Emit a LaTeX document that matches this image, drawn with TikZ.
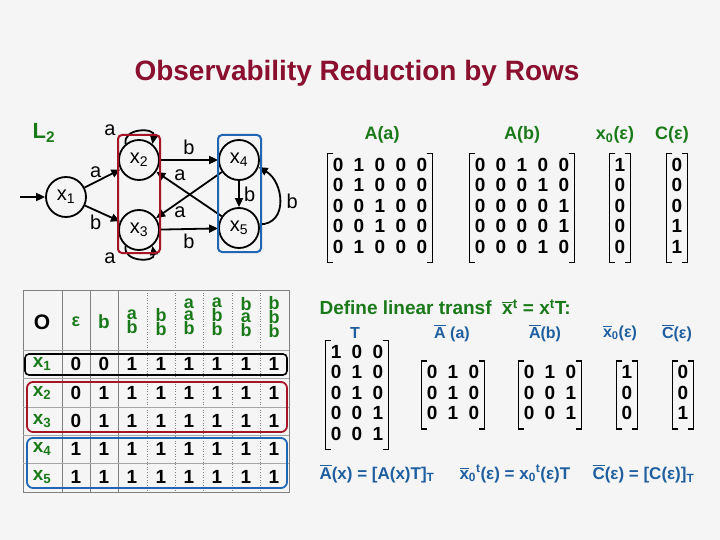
\documentclass[tikz,border=0pt]{standalone}
\usepackage{fontspec}
\setmainfont{Liberation Sans}
\usetikzlibrary{arrows.meta}
\definecolor{ttl}{HTML}{8B1030}
\definecolor{grn}{HTML}{1A7A1A}
\definecolor{blu}{HTML}{1F5FA0}
\definecolor{rbox}{HTML}{A51525}
\definecolor{bbox}{HTML}{1F66B5}
\newcommand{\ovl}[1]{\leavevmode\vbox{\hrule height 0.9pt\kern1.6pt\hbox{#1}}}
\newcommand{\brk}[1]{\draw[line width=1.3pt] ([xshift=6pt]#1.north west) -- (#1.north west) -- (#1.south west) -- ([xshift=6pt]#1.south west);
  \draw[line width=1.3pt] ([xshift=-6pt]#1.north east) -- (#1.north east) -- (#1.south east) -- ([xshift=-6pt]#1.south east);}
\begin{document}
\begin{tikzpicture}[x=1pt,y=-1pt,
  st/.style={circle,draw,line width=1.8pt,minimum size=40pt,inner sep=0pt,font=\fontsize{20}{24}\selectfont},
  ed/.style={line width=1.8pt,-{Triangle[length=9pt,width=8pt]}},
  el/.style={font=\fontsize{20}{24}\selectfont},
  mat/.style={inner xsep=2pt,inner ysep=3pt,font=\fontsize{19}{20.5}\selectfont\bfseries},
  hd/.style={font=\fontsize{18}{12}\selectfont\bfseries,text=grn,align=center},
  dg/.style={font=\fontsize{19}{20}\selectfont\bfseries},
  rl/.style={font=\fontsize{19}{20}\selectfont\bfseries,text=grn},
  gl/.style={font=\fontsize{18}{20}\selectfont\bfseries,text=grn},
  bl/.style={font=\fontsize{16}{18}\selectfont\bfseries,text=blu},
  bf/.style={font=\fontsize{17}{19}\selectfont\bfseries,text=blu,anchor=west}]
\fill[white!96!black] (0,0) rectangle (720,540);
\useasboundingbox (0,0) rectangle (720,540);
\node[font=\fontsize{28}{32}\selectfont\bfseries,text=ttl] (title) at (357,73) {Observability Reduction by Rows};
% graph
\node[font=\fontsize{22}{26}\selectfont\bfseries,text=grn] (L) at (44,133) {L\textsubscript{2}};
\node[st] (x1) at (66,197) {x\textsubscript{1}};
\node[st] (x2) at (139,160) {x\textsubscript{2}};
\node[st] (x3) at (139,230) {x\textsubscript{3}};
\node[st] (x4) at (239,160) {x\textsubscript{4}};
\node[st] (x5) at (239,228) {x\textsubscript{5}};
\coordinate (in) at (20,197);
\draw[ed] (in) -- (x1);
\draw[ed] (x1) -- node[el,above left=-3pt] {a} (x2);
\draw[ed] (x1) -- node[el,below left=-3pt] {b} (x3);
\draw[ed] (x2.130) to[out=100,in=80,looseness=1.6] (x2.50);
\node[el] (la2) at (110,130) {a};
\draw[ed] (x3.-130) to[out=-100,in=-80,looseness=1.6] (x3.-50);
\node[el] (la3) at (110,258) {a};
\draw[ed] (x2) -- node[el,above=1pt] {b} (x4);
\draw[ed] (x3) -- node[el,below=1pt] {b} (x5);
\draw[ed] (x5) -- (x2);
\draw[ed] (x4) -- (x3);
\node[el] (l52) at (180,175) {a};
\node[el] (l43) at (180,212) {a};
\draw[ed] (x4) -- node[el,right=1pt] {b} (x5);
\draw[ed] (x5.10) to[out=0,in=-30,looseness=1.3] node[el,right=3pt] {b} (x4.-20);
\draw[rbox,line width=2pt,rounded corners=4pt] (118,135) rectangle (160,253);
\draw[bbox,line width=2pt,rounded corners=4pt] (218,135) rectangle (261,252);
% top matrices
\node[gl] (ha) at (382,135) {A(a)};
\node[gl] (hb) at (522,135) {A(b)};
\node[gl] (hx) at (615,135) {x\textsubscript{0}(ε)};
\node[gl] (hc) at (672,135) {C(ε)};
\setlength\tabcolsep{5.2pt}
\node[mat] (Aa) at (380,208) {\begin{tabular}{@{\,}ccccc@{\,}}0&1&0&0&0\\0&1&0&0&0\\0&0&1&0&0\\0&0&1&0&0\\0&1&0&0&0\end{tabular}};
\node[mat] (Ab) at (522,208) {\begin{tabular}{@{\,}ccccc@{\,}}0&0&1&0&0\\0&0&0&1&0\\0&0&0&0&1\\0&0&0&0&1\\0&0&0&1&0\end{tabular}};
\node[mat] (X0) at (620,208) {\begin{tabular}{@{\,}c@{\,}}1\\0\\0\\0\\0\end{tabular}};
\node[mat] (C0) at (677,208) {\begin{tabular}{@{\,}c@{\,}}0\\0\\0\\1\\1\end{tabular}};
\brk{Aa}\brk{Ab}\brk{X0}\brk{C0}
% table
\draw[gray,line width=0.6pt] (23,290) rectangle (289,492);
\foreach \x in {62,90,118} \draw[gray,line width=0.6pt] (\x,290) -- (\x,492);
\foreach \x in {147,175,203,232,260} \draw[gray,line width=0.6pt,dotted] (\x,290) -- (\x,492);
\foreach \y in {350,378,407,435,463} \draw[gray!70,line width=0.5pt] (23,\y) -- (289,\y);
\node[font=\fontsize{21}{22}\selectfont\bfseries] (hO) at (42,322) {O};
\node[hd] (h1) at (76,322) {ε};
\node[hd,font=\fontsize{19}{20}\selectfont\bfseries] (h2) at (104,322) {b};
\node[hd] (h3) at (132,322) {a\\b};
\node[hd] (h4) at (161,322) {b\\b};
\node[hd] (h5) at (189,317) {a\\a\\b};
\node[hd] (h6) at (217,317) {a\\b\\b};
\node[hd] (h7) at (246,317) {b\\a\\b};
\node[hd] (h8) at (274,317) {b\\b\\b};
\foreach \r/\y/\v in {1/364/{0,0,1,1,1,1,1,1},2/393/{0,1,1,1,1,1,1,1},3/421/{0,1,1,1,1,1,1,1},4/449/{1,1,1,1,1,1,1,1},5/477/{1,1,1,1,1,1,1,1}}{
  \node[rl] (r\r) at (42,\y) {x\textsubscript{\r}};
  \foreach \d [count=\c] in \v {
    \pgfmathsetmacro\xx{{76,104,132,161,189,217,246,274}[\c-1]}
    \node[dg] (c\r-\c) at (\xx,\y) {\d};
  }
}
\draw[line width=1.6pt,rounded corners=4pt] (25,354) rectangle (287,375);
\draw[rbox,line width=1.8pt,rounded corners=6pt] (27,382) rectangle (287,432);
\draw[bbox,line width=1.8pt,rounded corners=6pt] (27,438) rectangle (287,488);
% bottom right
\node[font=\fontsize{19}{21}\selectfont\bfseries,text=grn,anchor=west] (def) at (316,307) {Define linear transf\ \ \ovl{x}\textsuperscript{t} = x\textsuperscript{t}T:};
\node[bl] (hT) at (355,333) {T};
\node[bl] (hAa) at (452,333) {\ovl{A} (a)};
\node[bl] (hAb) at (545,333) {\ovl{A}(b)};
\node[bl] (hx0) at (620,333) {\ovl{x}\textsubscript{0}(ε)};
\node[bl] (hC) at (677,333) {\ovl{C}(ε)};
\node[mat] (T) at (357,395) {\begin{tabular}{@{\,}ccc@{\,}}1&0&0\\0&1&0\\0&1&0\\0&0&1\\0&0&1\end{tabular}};
\node[mat] (Ba) at (453,395) {\begin{tabular}{@{\,}ccc@{\,}}0&1&0\\0&1&0\\0&1&0\end{tabular}};
\node[mat] (Bb) at (550,395) {\begin{tabular}{@{\,}ccc@{\,}}0&1&0\\0&0&1\\0&0&1\end{tabular}};
\node[mat] (Bx) at (627,395) {\begin{tabular}{@{\,}c@{\,}}1\\0\\0\end{tabular}};
\node[mat] (Bc) at (683,395) {\begin{tabular}{@{\,}c@{\,}}0\\0\\1\end{tabular}};
\brk{T}\brk{Ba}\brk{Bb}\brk{Bx}\brk{Bc}
\node[bf] (f1) at (316,474) {\ovl{A}(x) = [A(x)T]\textsubscript{T}};
\node[bf] (f2) at (456,474) {\ovl{x}\textsubscript{0}\textsuperscript{t}(ε) = x\textsubscript{0}\textsuperscript{t}(ε)T};
\node[bf] (f3) at (589,474) {\ovl{C}(ε) = [C(ε)]\textsubscript{T}};
\end{tikzpicture}
\end{document}
